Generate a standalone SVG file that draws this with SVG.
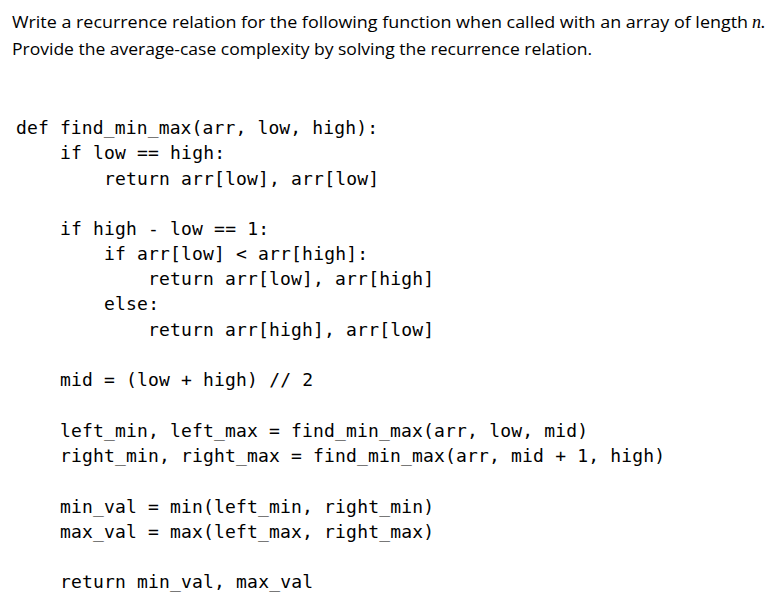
<svg xmlns="http://www.w3.org/2000/svg" width="780" height="605" viewBox="0 0 780 605">
<style>
.h{font-family:"Open Sans","Liberation Sans",sans-serif;font-size:16px;fill:#000}
.c{font-family:"DejaVu Sans Mono","Liberation Mono",monospace;font-size:18px;fill:#000;white-space:pre}
</style>
<rect width="780" height="605" fill="#fff"/>
<text class="h" x="12" y="28" textLength="736" lengthAdjust="spacingAndGlyphs">Write a recurrence relation for the following function when called with an array of length</text>
<text x="752" y="28" style="font-family:'Liberation Serif',serif;font-style:italic;font-size:18px">n.</text>
<text class="h" x="12" y="55" textLength="580" lengthAdjust="spacingAndGlyphs">Provide the average-case complexity by solving the recurrence relation.</text>
<g class="c" xml:space="preserve">
<text x="16" y="134" textLength="362">def find_min_max(arr, low, high):</text>
<text x="60" y="159" textLength="165">if low == high:</text>
<text x="104" y="185" textLength="275">return arr[low], arr[low]</text>
<text x="60" y="235" textLength="209">if high - low == 1:</text>
<text x="104" y="260" textLength="264">if arr[low] &lt; arr[high]:</text>
<text x="148" y="285" textLength="286">return arr[low], arr[high]</text>
<text x="104" y="310" textLength="55">else:</text>
<text x="148" y="336" textLength="286">return arr[high], arr[low]</text>
<text x="60" y="386" textLength="253">mid = (low + high) // 2</text>
<text x="60" y="437" textLength="528">left_min, left_max = find_min_max(arr, low, mid)</text>
<text x="60" y="462" textLength="605">right_min, right_max = find_min_max(arr, mid + 1, high)</text>
<text x="60" y="513" textLength="374">min_val = min(left_min, right_min)</text>
<text x="60" y="538" textLength="374">max_val = max(left_max, right_max)</text>
<text x="60" y="588" textLength="253">return min_val, max_val</text>
</g>
</svg>
